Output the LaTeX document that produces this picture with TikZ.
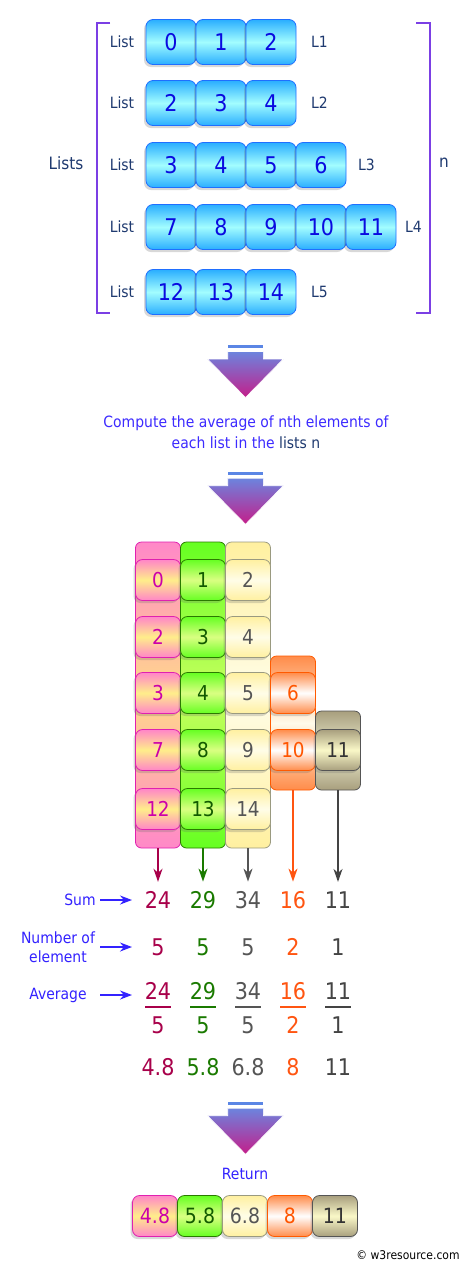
\documentclass[tikz,border=0pt]{standalone}
\usepackage{fontspec}
\setmainfont{DejaVu Sans}[FakeStretch=0.9]
\usetikzlibrary{shadows,arrows.meta}
\definecolor{cbluedark}{HTML}{2AAEFF}
\definecolor{cbluelight}{HTML}{A2FDFF}
\definecolor{cblueborder}{HTML}{1F6FFF}
\definecolor{cbluetext}{HTML}{0A0AE0}
\definecolor{listnavy}{HTML}{1F3A70}
\definecolor{brackpurple}{HTML}{7B3FE4}
\definecolor{arrbar}{HTML}{5B86E5}
\definecolor{arrtop}{HTML}{6C84DE}
\definecolor{arrbot}{HTML}{C41E8A}
\definecolor{cmpblue}{HTML}{3D2BFF}
\definecolor{lblblue}{HTML}{3322FF}
% middle cells
\definecolor{pinkA}{HTML}{FF85C8}
\definecolor{pinkM}{HTML}{FFEE8A}
\definecolor{pinkborder}{HTML}{E020B0}
\definecolor{pinktext}{HTML}{CC00AA}
\definecolor{pinkcolA}{HTML}{FF88C8}
\definecolor{pinkcolM}{HTML}{FFD98A}
\definecolor{greenA}{HTML}{66FF22}
\definecolor{greenM}{HTML}{DAFF82}
\definecolor{greenborder}{HTML}{2A7A00}
\definecolor{greentext}{HTML}{125A00}
\definecolor{greencolM}{HTML}{C8FF60}
\definecolor{yellowA}{HTML}{FFF0A0}
\definecolor{yellowM}{HTML}{FFFDE8}
\definecolor{yellowborder}{HTML}{9A9A80}
\definecolor{yellowtext}{HTML}{555555}
\definecolor{orangeA}{HTML}{FF8C4A}
\definecolor{orangeM}{HTML}{FFFFFF}
\definecolor{orangeborder}{HTML}{FF5A00}
\definecolor{orangetext}{HTML}{FF5500}
\definecolor{orangecolM}{HTML}{FFFBEA}
\definecolor{greyA}{HTML}{A89F7E}
\definecolor{greyM}{HTML}{FAF8C8}
\definecolor{greyborder}{HTML}{555555}
\definecolor{greytext}{HTML}{333333}
\definecolor{greycolM}{HTML}{EEEED0}
% number colours
\definecolor{ca}{HTML}{A8004A}
\definecolor{cb}{HTML}{1A7A00}
\definecolor{cc}{HTML}{555555}
\definecolor{cd}{HTML}{FF5511}
\definecolor{ce}{HTML}{444444}
\newcommand{\bigdown}[1]{%
  \begin{scope}[shift={(0,#1)}]
    \fill[arrbar] (227.7,0) rectangle (263.3,3.3);
    \path[top color=arrtop, bottom color=arrbot, draw=white, line width=0.6pt]
      (227.7,6.5) -- (263.3,6.5) -- (263.3,14) -- (283.3,14) -- (245.5,52.5)
      -- (207.5,14) -- (227.7,14) -- cycle;
  \end{scope}}
\begin{document}
\begin{tikzpicture}[x=1pt,y=-1pt,
  shadowed/.style={drop shadow={shadow xshift=-2pt, shadow yshift=-2.5pt, fill=black!60, opacity=0.25}},
  bluecell/.style={rectangle, rounded corners=7pt, inner sep=0pt, minimum width=50pt, minimum height=45pt,
     draw=cblueborder, line width=0.8pt, top color=cbluedark, bottom color=cbluedark, middle color=cbluelight,
     text=cbluetext, font=\fontsize{23}{23}\selectfont, shadowed},
  listlbl/.style={inner sep=0pt, text=listnavy, font=\fontsize{15.5}{15.5}\selectfont},
  midcell/.style={rectangle, rounded corners=7pt, inner sep=0pt, minimum width=45pt, minimum height=41pt,
     line width=0.8pt, font=\fontsize{20.5}{20.5}\selectfont, shadowed},
  pinkcell/.style={midcell, draw=pinkborder, top color=pinkA, bottom color=pinkA, middle color=pinkM, text=pinktext},
  greencell/.style={midcell, draw=greenborder, top color=greenA, bottom color=greenA, middle color=greenM, text=greentext},
  yellowcell/.style={midcell, draw=yellowborder, top color=yellowA, bottom color=yellowA, middle color=yellowM, text=yellowtext},
  orangecell/.style={midcell, draw=orangeborder, top color=orangeA, bottom color=orangeA, middle color=orangeM, text=orangetext},
  greycell/.style={midcell, draw=greyborder, top color=greyA, bottom color=greyA, middle color=greyM, text=greytext},
  colbg/.style={rectangle, rounded corners=6pt, inner sep=0pt, minimum width=45pt, line width=0.8pt},
  pinkcol/.style={colbg, draw=pinkborder, top color=pinkcolA, bottom color=pinkcolA, middle color=pinkcolM},
  greencol/.style={colbg, draw=greenborder, top color=greenA, bottom color=greenA, middle color=greencolM},
  yellowcol/.style={colbg, draw=yellowborder, top color=yellowA, bottom color=yellowA, middle color=yellowM},
  orangecol/.style={colbg, draw=orangeborder, top color=orangeA, bottom color=orangeA, middle color=orangecolM},
  greycol/.style={colbg, draw=greyborder, top color=greyA, bottom color=greyA, middle color=greycolM},
  num/.style={inner sep=0pt, font=\fontsize{23}{23}\selectfont},
  lbl/.style={inner sep=0pt, text=lblblue, font=\fontsize{15.5}{19}\selectfont},
  colarrow/.style={line width=1.5pt, -{Stealth[length=13pt,width=9pt,inset=4pt]}, shorten >=9.5pt},
  lblarrow/.style={draw=lblblue, line width=1.8pt, -{Stealth[length=12pt,width=9pt,inset=4pt]}},
  bracket/.style={draw=brackpurple, line width=2.5pt}
]
\useasboundingbox (0,0) rectangle (465,1270);
\fill[white] (0,0) rectangle (465,1270);

% ---------- top lists ----------
\draw[bracket] (110,23) -- (97,23) -- (97,313) -- (110,313);
\draw[bracket] (416,23) -- (430,23) -- (430,313) -- (416,313);
\node[inner sep=0pt, text=listnavy, font=\fontsize{17}{17}\selectfont] (lists) at (66,163) {Lists};
\node[inner sep=0pt, text=listnavy, font=\fontsize{17}{17}\selectfont] (nlbl) at (444,163) {n};
\foreach \r/\y/\vals/\lx in {1/42/{0,1,2}/311, 2/103/{2,3,4}/311, 3/165/{3,4,5,6}/358,
                             4/227/{7,8,9,10,11}/405, 5/292/{12,13,14}/311} {
  \node[listlbl] (lst\r) at (122,\y) {List};
  \foreach \v [count=\i] in \vals { \node[bluecell] (t\r-\i) at ({121+50*\i},\y) {\v}; }
  \node[listlbl, anchor=west] (L\r) at (\lx,\y) {L\r};
}

% ---------- arrow 1 and text ----------
\bigdown{345}
\node[inner sep=0pt, anchor=base, text=cmpblue, font=\fontsize{15.5}{15.5}\selectfont] (cmp1) at (246,427)
  {Compute the average of nth elements of};
\node[inner sep=0pt, anchor=base, text=cmpblue, font=\fontsize{15.5}{15.5}\selectfont] (cmp2) at (246,448)
  {each list in the {\color{listnavy}lists n}};
\bigdown{471.7}

% ---------- columns ----------
\node[pinkcol, minimum height=306pt] (col1) at (158,695) {};
\node[greencol, minimum height=306pt] (col2) at (203,695) {};
\node[yellowcol, minimum height=306pt] (col3) at (248,695) {};
\node[orangecol, minimum height=134pt] (col4) at (293,723) {};
\node[greycol, minimum height=79pt] (col5) at (338,750.5) {};
\foreach \v/\y [count=\i] in {0/580, 2/637, 3/693, 7/750, 12/809}
  \node[pinkcell] (p\i) at (158,\y) {\v};
\foreach \v/\y [count=\i] in {1/580, 3/637, 4/693, 8/750, 13/809}
  \node[greencell] (g\i) at (203,\y) {\v};
\foreach \v/\y [count=\i] in {2/580, 4/637, 5/693, 9/750, 14/809}
  \node[yellowcell] (y\i) at (248,\y) {\v};
\node[orangecell] (o1) at (293,693) {6};
\node[orangecell] (o2) at (293,750) {10};
\node[greycell] (k1) at (338,750) {11};

% ---------- numbers ----------
\foreach \s/\n/\d/\x/\c [count=\i] in {24/5/4.8/158/ca, 29/5/5.8/203/cb, 34/5/6.8/248/cc,
                                       16/2/8/293/cd, 11/1/11/338/ce} {
  \node[num, text=\c] (s\i) at (\x,900) {\s};
  \node[num, text=\c] (n\i) at (\x,947) {\n};
  \node[num, text=\c] (fa\i) at (\x,991) {\s};
  \draw[draw=\c, line width=1.6pt] ({\x-13},1007) -- ({\x+13},1007);
  \node[num, text=\c] (fb\i) at (\x,1025) {\n};
  \node[num, text=\c] (d\i) at (\x,1067) {\d};
  \draw[colarrow, draw=\c] (col\i.south) -- (s\i.north);
}

% ---------- row labels ----------
\node[lbl] (sumlbl) at (80,900) {Sum};
\node[lbl, align=center] (numlbl) at (58,947) {Number of\\element};
\node[lbl] (avglbl) at (58,995) {Average};
\coordinate (sumtip) at (132,900);
\coordinate (numtip) at (132,947);
\coordinate (avgtip) at (132,995);
\draw[lblarrow] (100,900) coordinate (sumtail) -- (sumtip);
\draw[lblarrow] (100,947) coordinate (numtail) -- (numtip);
\draw[lblarrow] (100,995) coordinate (avgtail) -- (avgtip);

% ---------- return ----------
\bigdown{1101.7}
\node[lbl] (ret) at (245,1174) {Return};
\node[pinkcell, font=\fontsize{21}{21}\selectfont] (r1) at (155,1216) {4.8};
\node[greencell, font=\fontsize{21}{21}\selectfont] (r2) at (200,1216) {5.8};
\node[yellowcell, font=\fontsize{21}{21}\selectfont] (r3) at (245,1216) {6.8};
\node[orangecell, font=\fontsize{21}{21}\selectfont] (r4) at (290,1216) {8};
\node[greycell, font=\fontsize{21}{21}\selectfont] (r5) at (335,1216) {11};
\node[inner sep=0pt, font=\fontsize{12}{12}\selectfont] (copy) at (408,1255) {© w3resource.com};
\end{tikzpicture}
\end{document}
